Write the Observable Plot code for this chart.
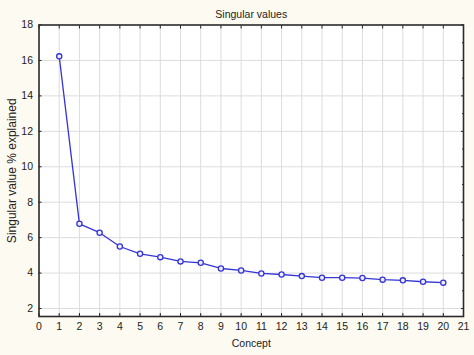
<!DOCTYPE html>
<html><head>
<meta charset="utf-8">
<script src="https://cdn.jsdelivr.net/npm/d3@7"></script>
<script src="https://cdn.jsdelivr.net/npm/@observablehq/plot@0.6"></script>
<style>body{margin:0;background:#fdfbf1;} svg{display:block;}</style>
</head><body><div id="chart"></div>
<script>
const title = "Singular values";
const concepts = [1,2,3,4,5,6,7,8,9,10,11,12,13,14,15,16,17,18,19,20];
const values = [16.23,6.78,6.28,5.50,5.09,4.90,4.66,4.58,4.26,4.15,3.98,3.92,3.83,3.74,3.74,3.72,3.63,3.59,3.51,3.46];
const xTicks = [0,1,2,3,4,5,6,7,8,9,10,11,12,13,14,15,16,17,18,19,20,21];
const yTicks = [2,4,6,8,10,12,14,16,18];
const yMinor = [3,5,7,9,11,13,15,17];

const data = concepts.map((c, i) => ({concept: c, value: values[i]}));
const blue = "#3535d6";
const font = "'Liberation Sans', Arial, sans-serif";

const plot = Plot.plot({
  width: 474, height: 355,
  marginLeft: 38.5, marginRight: 11, marginTop: 24.5, marginBottom: 39,
  style: {background: "#fdfbf1", fontFamily: font, fontSize: "10px", color: "#222"},
  x: {domain: [0, 21]},
  y: {domain: [1.55, 18]},
  marks: [
    Plot.frame({fill: "white", stroke: null}),
    Plot.gridX(concepts, {stroke: "#dcdcdc", strokeOpacity: 1}),
    Plot.gridY(yTicks.filter(d => d < 18), {stroke: "#dcdcdc", strokeOpacity: 1}),
    Plot.axisX(xTicks, {anchor: "bottom", tickSize: 0, tickPadding: 6, label: "Concept", labelAnchor: "center", labelArrow: "none", labelOffset: 30, fontSize: 10.5}),
    Plot.axisX(xTicks, {anchor: "bottom", tickSize: -3, text: null, label: null, stroke: "#222"}),
    Plot.axisX(xTicks, {anchor: "top", tickSize: -3, text: null, label: null, stroke: "#222"}),
    Plot.axisY(yTicks, {anchor: "left", tickSize: 0, tickPadding: 6, label: null, fontSize: 10.5}),
    Plot.axisY(yTicks, {anchor: "left", tickSize: 0, text: null, label: "Singular value % explained", labelAnchor: "center", labelArrow: "none", labelOffset: 32, fontSize: 12}),
    Plot.axisY(yTicks, {anchor: "left", tickSize: -3, text: null, label: null, stroke: "#222"}),
    Plot.axisY(yTicks, {anchor: "right", tickSize: -3, text: null, label: null, stroke: "#222"}),
    Plot.axisY(yMinor, {anchor: "right", tickSize: -2, text: null, label: null, stroke: "#222"}),
    Plot.frame({stroke: "#2a2a2a", strokeWidth: 1.6}),
    Plot.line(data, {x: "concept", y: "value", stroke: blue, strokeWidth: 1.3}),
    Plot.dot(data, {x: "concept", y: "value", r: 2.6, stroke: blue, strokeWidth: 1.3, fill: "#eeeeff"}),
    Plot.text([title], {frameAnchor: "top", dy: -14, text: d => d, fontSize: 10.5, fill: "#222"})
  ]
});
document.getElementById("chart").appendChild(plot);
</script>
</body></html>
